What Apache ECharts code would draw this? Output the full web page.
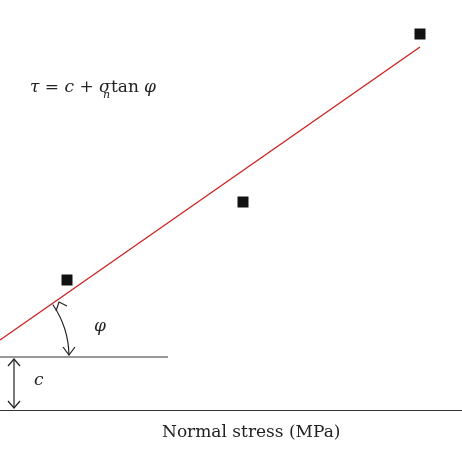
<!DOCTYPE html>
<html>
<head>
<meta charset="utf-8" />
<script src="https://cdn.jsdelivr.net/npm/echarts@6/dist/echarts.min.js"></script>
<style>html,body{margin:0;padding:0;background:#fff}#chart{width:462px;height:462px}</style>
</head>
<body>
<div id="chart"></div>
<script>
// data (in drawing units, y measured up from the axis)
var points = [[67, 130], [243, 208], [420, 376]];
var fitLine = [[0, 70], [420, 363]];
var cLine = [[0, 53], [168, 53]];

var chart = echarts.init(document.getElementById('chart'));
var arrowStyle = { stroke: '#222', lineWidth: 1.2, fill: null };
chart.setOption({
  animation: false,
  grid: { left: 0, right: 0, top: 0, bottom: 52 },
  xAxis: {
    type: 'value', min: 0, max: 462, show: true,
    axisLine: { show: true, onZero: false, lineStyle: { color: '#333', width: 1.2 } },
    axisTick: { show: false }, axisLabel: { show: false }, splitLine: { show: false }
  },
  yAxis: { type: 'value', min: 0, max: 410, show: false },
  series: [
    { type: 'line', data: fitLine, symbol: 'none', lineStyle: { color: '#cc1f1f', width: 1.3 } },
    { type: 'line', data: cLine, symbol: 'none', lineStyle: { color: '#333', width: 1.2 } },
    { type: 'scatter', data: points, symbol: 'rect', symbolSize: 11, itemStyle: { color: '#111', opacity: 1 } }
  ],
  graphic: [
    { type: 'text', left: 162, top: 424, style: { text: 'Normal stress (MPa)', font: '17px DejaVu Serif', fill: '#222' } },
    { type: 'text', left: 30, top: 79, style: { text: 'τ = c + σ', font: 'italic 17px DejaVu Serif', fill: '#222' } },
    { type: 'text', left: 103, top: 90, style: { text: 'n', font: 'italic 11px DejaVu Serif', fill: '#222' } },
    { type: 'text', left: 111, top: 79, style: { text: 'tan', font: '17px DejaVu Serif', fill: '#222' } },
    { type: 'text', left: 144, top: 79, style: { text: 'φ', font: 'italic 17px DejaVu Serif', fill: '#222' } },
    { type: 'text', left: 94, top: 318, style: { text: 'φ', font: 'italic 17px DejaVu Serif', fill: '#222' } },
    { type: 'text', left: 34, top: 372, style: { text: 'c', font: 'italic 17px DejaVu Serif', fill: '#222' } },
    // c arrow
    { type: 'line', shape: { x1: 14, y1: 359, x2: 14, y2: 408 }, style: arrowStyle },
    { type: 'polyline', shape: { points: [[8, 366], [14, 359], [20, 366]] }, style: arrowStyle },
    { type: 'polyline', shape: { points: [[8, 401], [14, 408], [20, 401]] }, style: arrowStyle },
    // phi arc
    { type: 'arc', shape: { cx: -24, cy: 357, r: 93, startAngle: -0.6, endAngle: -0.02 }, style: arrowStyle },
    { type: 'polyline', shape: { points: [[56, 311], [59, 302], [67, 306]] }, style: arrowStyle },
    { type: 'polyline', shape: { points: [[63, 347], [69, 355], [75, 347]] }, style: arrowStyle }
  ]
});
</script>
</body>
</html>
